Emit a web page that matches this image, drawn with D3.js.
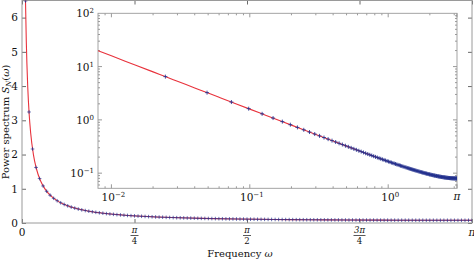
<!DOCTYPE html>
<meta charset="utf-8">
<script src="https://d3js.org/d3.v7.min.js"></script>
<style>
  body { margin: 0; background: #fff; }
  text { font-family: "DejaVu Serif", serif; fill: #111; }
</style>
<div id="chart"></div>
<script>
// DFT bins k = 1..128 of a 256-point signal (frequency grid)
var markerFreq = d3.range(1, 129).map(function(k) { return 2 * Math.PI * k / 256; });
// measured power at each bin (blue crosses)
var markerVal = [
  6.485, 3.243, 2.162, 1.622, 1.298, 1.082, 0.9275, 0.8119, 0.7220, 0.6501,
  0.5913, 0.5423, 0.5009, 0.4655, 0.4348, 0.4079, 0.3842, 0.3632, 0.3444, 0.3275,
  0.3122, 0.2984, 0.2857, 0.2741, 0.2635, 0.2537, 0.2446, 0.2362, 0.2284, 0.2211,
  0.2143, 0.2079, 0.2020, 0.1964, 0.1911, 0.1861, 0.1814, 0.1770, 0.1728, 0.1688,
  0.1650, 0.1614, 0.1580, 0.1548, 0.1517, 0.1487, 0.1459, 0.1432, 0.1407, 0.1382,
  0.1358, 0.1336, 0.1314, 0.1293, 0.1274, 0.1254, 0.1236, 0.1218, 0.1201, 0.1185,
  0.1169, 0.1154, 0.1139, 0.1125, 0.1112, 0.1099, 0.1086, 0.1074, 0.1062, 0.1051,
  0.1040, 0.1029, 0.1019, 0.1009, 0.1000, 0.0991, 0.0982, 0.0973, 0.0965, 0.0957,
  0.0949, 0.0942, 0.0935, 0.0928, 0.0921, 0.0915, 0.0908, 0.0902, 0.0897, 0.0891,
  0.0886, 0.0880, 0.0875, 0.0870, 0.0866, 0.0861, 0.0857, 0.0853, 0.0849, 0.0845,
  0.0842, 0.0838, 0.0835, 0.0832, 0.0829, 0.0826, 0.0823, 0.0820, 0.0818, 0.0816,
  0.0813, 0.0811, 0.0809, 0.0808, 0.0806, 0.0804, 0.0803, 0.0802, 0.0801, 0.0800,
  0.0799, 0.0798, 0.0797, 0.0797, 0.0796, 0.0796, 0.0796, 0.0796
];
// theoretical curve (red line)
var curveFreq = [0.008, 0.01, 0.015, 0.02, 0.025, 0.03, 0.04, 0.05, 0.06, 0.08, 0.1, 0.13, 0.16,
                 0.2, 0.25, 0.3, 0.4, 0.5, 0.6, 0.8, 1.0, 1.25, 1.5, 1.75, 2.0, 2.25, 2.5, 2.75, 3.0, Math.PI];
var curveVal = [19.89, 15.92, 10.61, 7.958, 6.366, 5.305, 3.979, 3.183, 2.653, 1.990, 1.592, 1.225, 0.9958,
                0.7971, 0.6383, 0.5325, 0.4006, 0.3217, 0.2693, 0.2044, 0.1660, 0.1360, 0.1167, 0.1037,
                0.0946, 0.0882, 0.0839, 0.0811, 0.0798, 0.0796];

var mainYTicks = [0, 1, 2, 3, 4, 5, 6];
var mainXTicks = [0, Math.PI / 4, Math.PI / 2, 3 * Math.PI / 4, Math.PI];
var mainXLabels = [["0"], ["π", "4"], ["π", "2"], ["3π", "4"], ["π"]];
var insetYTicks = [0.1, 1, 10, 100];
var insetYExp = ["−1", "0", "1", "2"];
var insetXTicks = [0.01, 0.1, 1];
var insetXExp = ["−2", "−1", "0"];

var W = 474, H = 260;
var red = "#e8323c", blue = "#23318f", frame = "#9a9a9a";

var svg = d3.select("#chart").append("svg")
  .attr("width", W).attr("height", H);

var curve = curveFreq.map(function(f, i) { return [f, curveVal[i]]; });
var marks = markerFreq.map(function(f, i) { return [f, markerVal[i]]; });

// ---------- main plot ----------
var x = d3.scaleLinear().domain([0, Math.PI]).range([22, 472]);
var y = d3.scaleLinear().domain([0, 6.5]).range([223, 0.5]);

svg.append("clipPath").attr("id", "clipMain")
  .append("rect").attr("x", 22).attr("y", 0.5).attr("width", 450).attr("height", 222.5);

function styleAxis(g) {
  g.select(".domain").remove();
  g.selectAll(".tick line").attr("stroke", "#444").attr("stroke-width", 0.8);
  g.selectAll(".tick text").style("font-size", "10.5px");
}

svg.append("g").attr("transform", "translate(22,0)")
  .call(d3.axisLeft(y).tickValues(mainYTicks).tickFormat(d3.format("d"))
    .tickSizeInner(-4).tickSizeOuter(0).tickPadding(4))
  .call(styleAxis);
svg.append("g").attr("transform", "translate(472,0)")
  .call(d3.axisRight(y).tickValues(mainYTicks).tickSizeInner(-4).tickSizeOuter(0).tickFormat(""))
  .call(styleAxis);
svg.append("g").attr("transform", "translate(0,223)")
  .call(d3.axisBottom(x).tickValues(mainXTicks).tickSizeInner(-4).tickSizeOuter(0).tickFormat(""))
  .call(styleAxis);
svg.append("g").attr("transform", "translate(0,0.5)")
  .call(d3.axisTop(x).tickValues(mainXTicks).tickSizeInner(-4).tickSizeOuter(0).tickFormat(""))
  .call(styleAxis);

svg.append("rect").attr("x", 22).attr("y", 0.5).attr("width", 450).attr("height", 222.5)
  .attr("fill", "none").attr("stroke", frame).attr("stroke-width", 1);

// x tick labels (fractions of π)
var xl = svg.append("g").style("font-size", "10.5px");
mainXTicks.forEach(function(v, i) {
  var lab = mainXLabels[i], cx = x(v);
  if (lab.length === 1) {
    xl.append("text").attr("x", cx).attr("y", 236).attr("text-anchor", "middle")
      .style("font-style", lab[0] === "π" ? "italic" : "normal").text(lab[0]);
  } else {
    xl.append("text").attr("x", cx).attr("y", 233).attr("text-anchor", "middle")
      .style("font-size", "8.5px").style("font-style", "italic").text(lab[0]);
    var w = lab[0].length > 1 ? 6 : 4;
    xl.append("line").attr("x1", cx - w).attr("x2", cx + w).attr("y1", 235.5).attr("y2", 235.5)
      .attr("stroke", "#111").attr("stroke-width", 0.7);
    xl.append("text").attr("x", cx).attr("y", 244).attr("text-anchor", "middle")
      .style("font-size", "8.5px").text(lab[1]);
  }
});

var line = d3.line().curve(d3.curveMonotoneX);

var mainG = svg.append("g").attr("clip-path", "url(#clipMain)");
mainG.append("path")
  .attr("d", line(curve.map(function(d) { return [x(d[0]), y(d[1])]; })))
  .attr("fill", "none").attr("stroke", red).attr("stroke-width", 1.1);

function cross(px, py, s) {
  return "M" + (px - s) + "," + py + "H" + (px + s) + "M" + px + "," + (py - s) + "V" + (py + s);
}
mainG.append("path")
  .attr("d", marks.map(function(d) { return cross(x(d[0]), y(d[1]), 1.8); }).join(""))
  .attr("fill", "none").attr("stroke", blue).attr("stroke-width", 0.7);

// axis titles
svg.append("text").attr("x", 240).attr("y", 257).attr("text-anchor", "middle")
  .style("font-size", "10px")
  .call(function(t) {
    t.append("tspan").text("Frequency ");
    t.append("tspan").style("font-style", "italic").text("ω");
  });

svg.append("text").attr("transform", "translate(9,122) rotate(-90)")
  .attr("text-anchor", "middle").style("font-size", "10px")
  .call(function(t) {
    t.append("tspan").text("Power spectrum ");
    t.append("tspan").style("font-style", "italic").text("S");
    t.append("tspan").style("font-style", "italic").style("font-size", "7px").attr("dy", 2).text("N");
    t.append("tspan").attr("dy", -2).text("(");
    t.append("tspan").style("font-style", "italic").text("ω");
    t.append("tspan").text(")");
  });

// ---------- inset (log-log) ----------
var ix0 = 98, ix1 = 457, iy0 = 13.3, iy1 = 188.3;
var xi = d3.scaleLog().domain([0.008, Math.PI]).range([ix0, ix1]);
var yi = d3.scaleLog().domain([0.052, 100]).range([iy1, iy0]);

svg.append("rect").attr("x", ix0).attr("y", iy0).attr("width", ix1 - ix0).attr("height", iy1 - iy0)
  .attr("fill", "#fff").attr("stroke", "none");

svg.append("clipPath").attr("id", "clipInset")
  .append("rect").attr("x", ix0).attr("y", iy0).attr("width", ix1 - ix0).attr("height", iy1 - iy0);

function minorTicks(domain) {
  var out = [];
  for (var e = -3; e <= 2; e++) {
    for (var m = 1; m <= 9; m++) {
      var v = m * Math.pow(10, e);
      if (v > domain[0] && v < domain[1]) out.push({ v: v, major: m === 1 });
    }
  }
  return out;
}

var tg = svg.append("g").attr("stroke", "#555").attr("stroke-width", 0.6);
minorTicks(yi.domain()).forEach(function(t) {
  var len = t.major ? 4 : 2, py = yi(t.v);
  tg.append("line").attr("x1", ix0).attr("x2", ix0 + len).attr("y1", py).attr("y2", py);
  tg.append("line").attr("x1", ix1).attr("x2", ix1 - len).attr("y1", py).attr("y2", py);
});
minorTicks(xi.domain()).concat([{ v: Math.PI, major: true }]).forEach(function(t) {
  var len = t.major ? 4 : 2, px = xi(t.v);
  tg.append("line").attr("x1", px).attr("x2", px).attr("y1", iy1).attr("y2", iy1 - len);
  tg.append("line").attr("x1", px).attr("x2", px).attr("y1", iy0).attr("y2", iy0 + len);
});

svg.append("rect").attr("x", ix0).attr("y", iy0).attr("width", ix1 - ix0).attr("height", iy1 - iy0)
  .attr("fill", "none").attr("stroke", frame).attr("stroke-width", 0.9);

var il = svg.append("g").style("font-size", "10.5px");
insetYTicks.forEach(function(v, i) {
  var t = il.append("text").attr("x", ix0 - 4).attr("y", yi(v) + 4).attr("text-anchor", "end");
  t.append("tspan").text("10");
  t.append("tspan").attr("dy", -4).style("font-size", "7px").text(insetYExp[i]);
});
insetXTicks.forEach(function(v, i) {
  var t = il.append("text").attr("x", xi(v) + 2).attr("y", iy1 + 13).attr("text-anchor", "middle");
  t.append("tspan").text("10");
  t.append("tspan").attr("dy", -4).style("font-size", "7px").text(insetXExp[i]);
});
il.append("text").attr("x", xi(Math.PI)).attr("y", iy1 + 12).attr("text-anchor", "middle")
  .style("font-style", "italic").text("π");

var inG = svg.append("g").attr("clip-path", "url(#clipInset)");
inG.append("path")
  .attr("d", line(curve.map(function(d) { return [xi(d[0]), yi(d[1])]; })))
  .attr("fill", "none").attr("stroke", red).attr("stroke-width", 1.1);
inG.append("path")
  .attr("d", marks.map(function(d) { return cross(xi(d[0]), yi(d[1]), 2.0); }).join(""))
  .attr("fill", "none").attr("stroke", blue).attr("stroke-width", 0.85);
</script>
